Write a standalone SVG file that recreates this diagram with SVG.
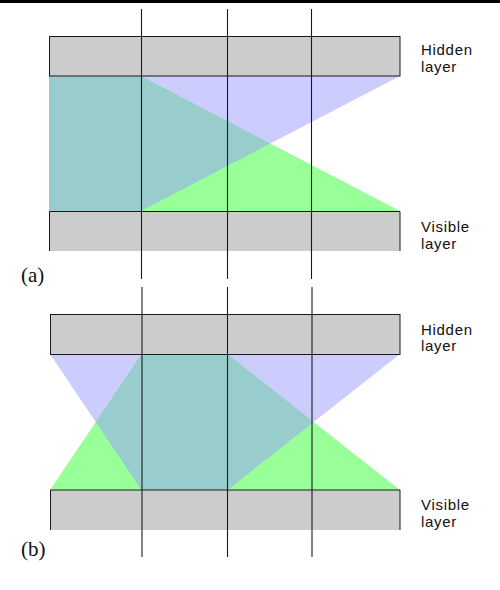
<svg xmlns="http://www.w3.org/2000/svg" width="500" height="590" viewBox="0 0 500 590">
<style>
.blue{fill:#ccccff}
.green{fill:#99ff99}
.teal{fill:#99cccc}
.layer{fill:#cccccc}
.edge{stroke:#1a1a1a;stroke-width:1;fill:none}
.grid{stroke:#1a1a1a;stroke-width:1.1}
.lbl{font-family:"Liberation Sans",Arial,sans-serif;font-size:15px;letter-spacing:0.7px;fill:#111}
.tag{font-family:"Liberation Serif","Times New Roman",serif;font-size:21px;fill:#111}
</style>
<rect x="0" y="0" width="500" height="3" fill="#000"/>
<g id="panel-a">
  <g id="a-fields">
    <polygon class="blue" points="49,76 400,76 141,211 49,211"/>
    <polygon class="green" points="49,76 141,76 400,211 49,211"/>
    <polygon class="teal" points="49,76 141,76 270.5,143.5 141,211 49,211"/>
  </g>
  <g id="a-hidden">
    <rect class="layer" x="49" y="36" width="351" height="40"/>
    <rect class="edge" x="49.5" y="36.5" width="350.5" height="39.5"/>
    <text class="lbl" x="421" y="55">Hidden</text>
    <text class="lbl" x="421" y="72">layer</text>
  </g>
  <g id="a-visible">
    <rect class="layer" x="49" y="211" width="351" height="40"/>
    <polyline class="edge" points="49.5,251 49.5,211.5 400,211.5 400,251"/>
    <text class="lbl" x="421" y="232">Visible</text>
    <text class="lbl" x="421" y="249">layer</text>
  </g>
  <text class="tag" x="21" y="282">(a)</text>
</g>
<g id="panel-b">
  <g id="b-fields">
    <polygon class="blue" points="50,354 400,354 227.5,490 141.5,490"/>
    <polygon class="green" points="50,490 141.5,354 227.5,354 400,490"/>
    <polygon class="teal" points="95.75,422 141.5,354 227.5,354 313.75,422 227.5,490 141.5,490"/>
  </g>
  <g id="b-hidden">
    <rect class="layer" x="50" y="314" width="350" height="40"/>
    <rect class="edge" x="50.5" y="314.5" width="349.5" height="40"/>
    <text class="lbl" x="421" y="335">Hidden</text>
    <text class="lbl" x="421" y="351">layer</text>
  </g>
  <g id="b-visible">
    <rect class="layer" x="50" y="490" width="350" height="40"/>
    <polyline class="edge" points="50.5,530 50.5,490 400,490 400,530"/>
    <text class="lbl" x="421" y="510">Visible</text>
    <text class="lbl" x="421" y="527">layer</text>
  </g>
  <text class="tag" x="21" y="556">(b)</text>
</g>
<g id="connectors">
  <line class="grid" x1="141.5" y1="9" x2="141.5" y2="279"/>
  <line class="grid" x1="227.5" y1="9" x2="227.5" y2="279"/>
  <line class="grid" x1="311.5" y1="9" x2="311.5" y2="279"/>
  <line class="grid" x1="142" y1="287" x2="142" y2="557"/>
  <line class="grid" x1="227.5" y1="287" x2="227.5" y2="557"/>
  <line class="grid" x1="312" y1="287" x2="312" y2="557"/>
</g>
</svg>
